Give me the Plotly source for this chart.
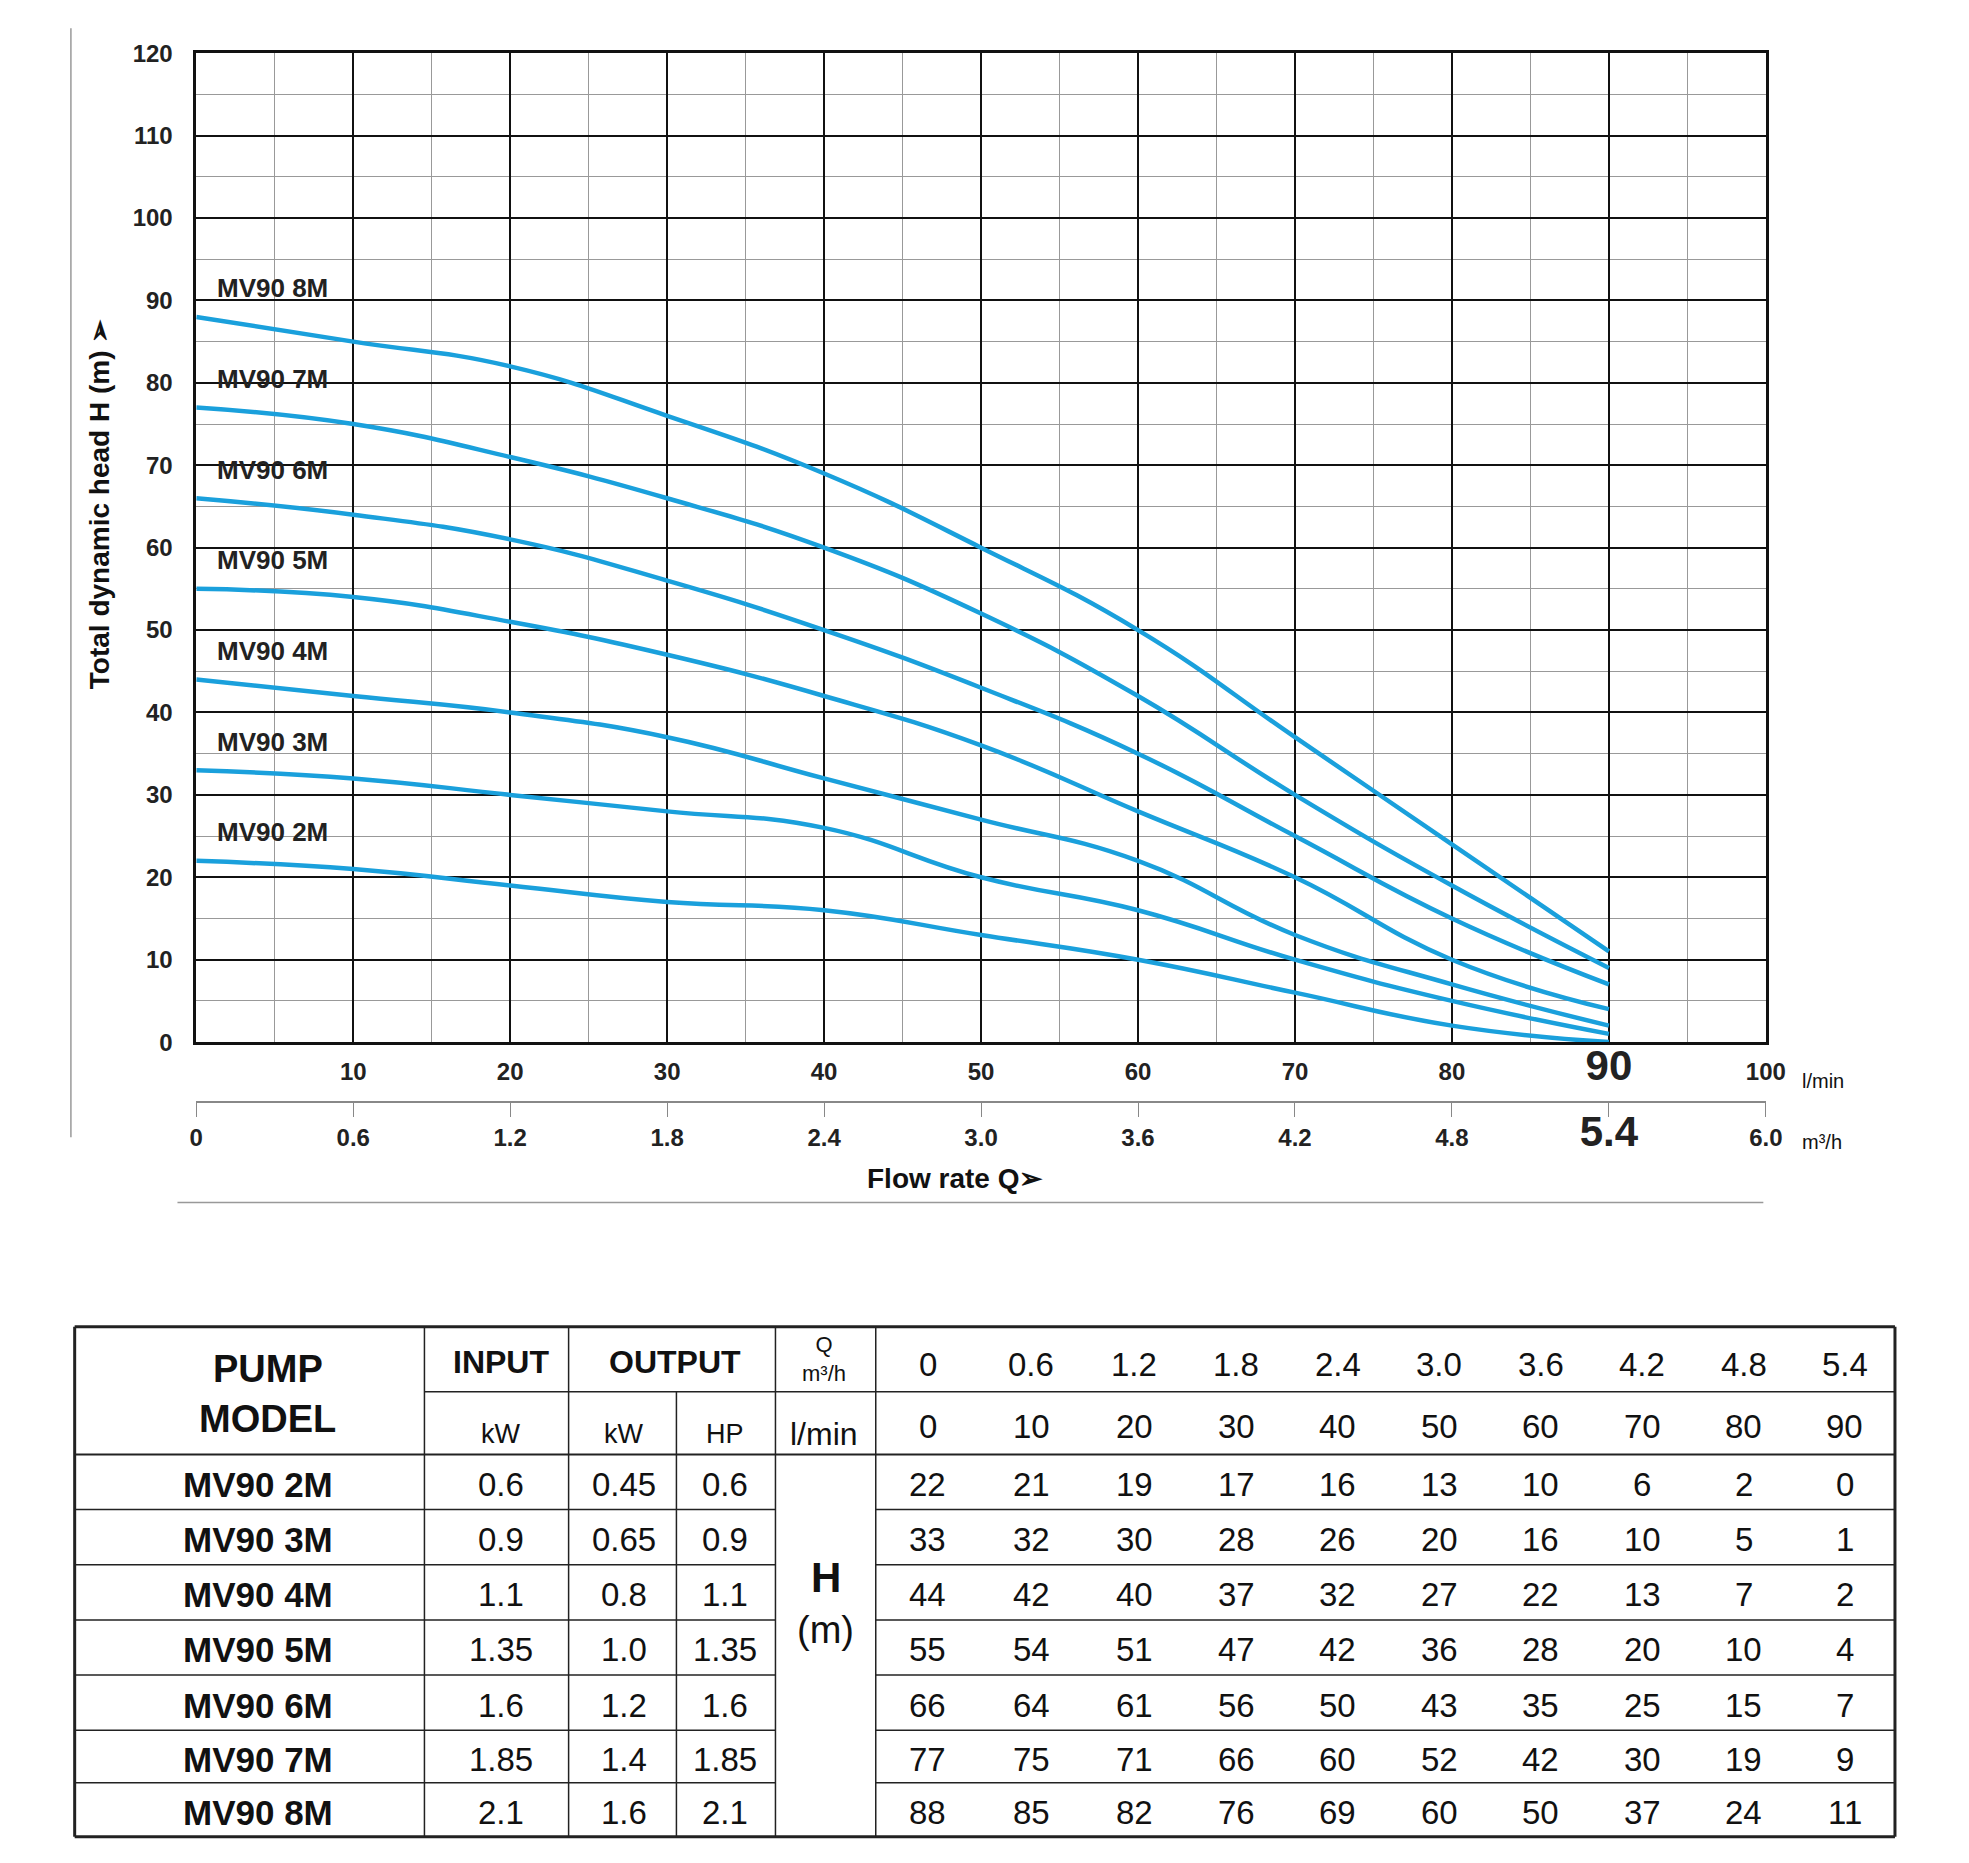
import plotly.graph_objects as go

W, H = 1560.0, 1470.0
def px(x): return ((x - 10.4) / 0.993) / W
def py(y): return 1 - ((y - 15.1) / 0.9965) / H

flow_lmin = [0, 10, 20, 30, 40, 50, 60, 70, 80, 90]
flow_m3h = ["0", "0.6", "1.2", "1.8", "2.4", "3.0", "3.6", "4.2", "4.8", "5.4"]
models = ["MV90 2M", "MV90 3M", "MV90 4M", "MV90 5M", "MV90 6M", "MV90 7M", "MV90 8M"]
input_kw = ["0.6", "0.9", "1.1", "1.35", "1.6", "1.85", "2.1"]
output_kw = ["0.45", "0.65", "0.8", "1.0", "1.2", "1.4", "1.6"]
output_hp = ["0.6", "0.9", "1.1", "1.35", "1.6", "1.85", "2.1"]
heads = [
    [22, 21, 19, 17, 16, 13, 10, 6, 2, 0],
    [33, 32, 30, 28, 26, 20, 16, 10, 5, 1],
    [44, 42, 40, 37, 32, 27, 22, 13, 7, 2],
    [55, 54, 51, 47, 42, 36, 28, 20, 10, 4],
    [66, 64, 61, 56, 50, 43, 35, 25, 15, 7],
    [77, 75, 71, 66, 60, 52, 42, 30, 19, 9],
    [88, 85, 82, 76, 69, 60, 50, 37, 24, 11],
]
lmin_ticks = [10, 20, 30, 40, 50, 60, 70, 80, 90, 100]
m3h_ticks = [0, 0.6, 1.2, 1.8, 2.4, 3.0, 3.6, 4.2, 4.8, 5.4, 6.0]

BLUE = "#1aa0dc"
fig = go.Figure()
for m, h in zip(models, heads):
    fig.add_trace(go.Scatter(x=flow_lmin, y=h, mode="lines", line=dict(color=BLUE, width=4.5, shape="spline", smoothing=1.3),
                             showlegend=False, hoverinfo="skip"))
    fig.add_annotation(x=1.2, y=h[0] + 1.4, text="<b>" + m + "</b>", showarrow=False, xanchor="left", yanchor="bottom",
                       font=dict(size=26, color="#222", family="Liberation Sans"))

tickf = dict(size=24, color="#222", family="Liberation Sans")
lt = []
for t in lmin_ticks:
    if t == 90:
        lt.append("<b><span style='font-size:42px'>90</span></b>")
    else:
        lt.append("<b>%d</b>" % t)
mt = []
for t in m3h_ticks:
    s = "%g" % t if t not in (3.0, 6.0) else "%.1f" % t
    if t == 5.4:
        mt.append("<b><span style='font-size:42px'>5.4</span></b>")
    else:
        mt.append("<b>" + s + "</b>")

fig.update_layout(
    width=1969, height=1863, autosize=False, margin=dict(l=0, r=0, t=0, b=0),
    paper_bgcolor="white", plot_bgcolor="white",
    xaxis=dict(domain=[px(155), px(1407)], range=[0, 100], tickvals=lmin_ticks, ticktext=lt, tickfont=tickf,
               showgrid=True, gridcolor="#111", gridwidth=2, zeroline=False, showline=True, linecolor="#111", linewidth=2.5,
               mirror=True, ticks="", ticklabelstandoff=6,
               minor=dict(dtick=5, showgrid=True, gridcolor="#999", gridwidth=1)),
    yaxis=dict(domain=[py(829), py(40)], range=[0, 120], dtick=10, tickfont=tickf, tickprefix="<b>", ticksuffix="</b>",
               showgrid=True, gridcolor="#111", gridwidth=2, zeroline=False, showline=True, linecolor="#111", linewidth=2.5,
               mirror=True, ticks="", ticklabelstandoff=16,
               minor=dict(dtick=5, showgrid=True, gridcolor="#999", gridwidth=1)),
    xaxis2=dict(overlaying="x", anchor="free", position=py(877), side="bottom", range=[0, 6], tickvals=m3h_ticks,
                ticktext=mt, tickfont=tickf, showgrid=False, zeroline=False, showline=True, linecolor="#888", linewidth=1.5,
                ticks="outside", ticklen=14, tickcolor="#888", domain=[px(155), px(1407)]),
)
fig.add_trace(go.Scatter(x=[0], y=[None], xaxis="x2", showlegend=False))

def ann(x, y, s, size, xa="center", angle=0):
    fig.add_annotation(xref="paper", yref="paper", x=px(x), y=py(y), text=s, textangle=angle, showarrow=False,
                       xanchor=xa, yanchor="middle", font=dict(size=size, color="#111", family="Liberation Sans"))
ann(78, 400, "<b>Total dynamic head H (m) ➢</b>", 28, angle=-90)
ann(760, 938, "<b>Flow rate Q➢</b>", 28)
ann(1434, 860, "l/min", 20, "left")
ann(1434, 909, "m³/h", 20, "left")

shapes = []
def line(x0, y0, x1, y1, w=2, c="#222"):
    shapes.append(dict(type="line", xref="paper", yref="paper", x0=px(x0), y0=py(y0), x1=px(x1), y1=py(y1),
                       line=dict(color=c, width=w)))
line(55, 20, 55, 905, 1.5, "#999")
line(140, 957, 1405, 957, 1.5, "#999")

cols = [58, 337, 452, 538, 617, 697, 780, 862, 944, 1025, 1106, 1187, 1268, 1349, 1430, 1510]
rows = [1158, 1202, 1246, 1290, 1334, 1378, 1420, 1463]
T, MID = 1056, 1108
line(58, T, 1510, T, 3)
line(58, 1463, 1510, 1463, 3)
line(58, T, 58, 1463, 3)
line(1510, T, 1510, 1463, 3)
line(337, MID, 1510, MID, 1.5)
for i, y in enumerate(rows[:-1]):
    w = 2 if i == 0 else 1.5
    line(58, y, 617, y, w)
    line(697, y, 1510, y, w)
line(617, rows[0], 697, rows[0], 2)
for x in [337, 452, 617, 697]:
    line(x, T, x, 1463, 1.5)
line(538, MID, 538, 1463, 1.5)
fig.update_layout(shapes=shapes)

def txt(x, y, s, size=33, bold=False):
    ann(x, y, ("<b>%s</b>" % s) if bold else s, size)
txt(212, 1090, "PUMP", 38, True)
txt(212, 1130, "MODEL", 38, True)
txt(398, 1084, "INPUT", 32, True)
txt(537, 1084, "OUTPUT", 32, True)
txt(656, 1082, "Q<br>m³/h", 22)
txt(398, 1142, "kW", 27)
txt(496, 1142, "kW", 27)
txt(577, 1142, "HP", 27)
txt(656, 1142, "l/min", 32)
txt(657, 1256, "H", 42, True)
txt(657, 1298, "(m)", 38)
for j in range(10):
    cx = (cols[5 + j] + cols[6 + j]) / 2
    txt(cx, 1086, flow_m3h[j], 33)
    txt(cx, 1136, str(flow_lmin[j]), 33)
for i in range(7):
    cy = (rows[i] + rows[i + 1]) / 2 + 2
    txt(204, cy, models[i], 35, True)
    txt(398, cy, input_kw[i], 33)
    txt(496, cy, output_kw[i], 33)
    txt(577, cy, output_hp[i], 33)
    for j in range(10):
        cx = (cols[5 + j] + cols[6 + j]) / 2
        txt(cx, cy, str(heads[i][j]), 33)

fig.write_html("out.html")
